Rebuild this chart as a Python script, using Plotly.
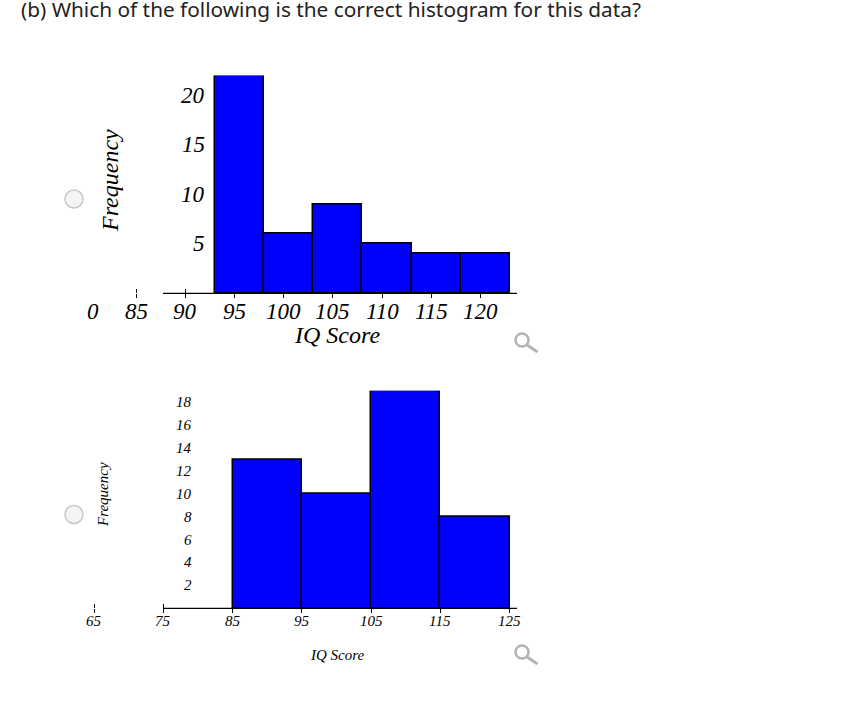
import plotly.graph_objects as go

W, H = 862, 708

top_bins = [93, 98, 103, 108, 113, 118]
top_freq = [22, 6, 9, 5, 4, 4]
top_xticks = [85, 90, 95, 100, 105, 110, 115, 120]
top_yticks = [5, 10, 15, 20]

low_bins = [85, 95, 105, 115]
low_freq = [13, 10, 19, 8]
low_xticks = [65, 75, 85, 95, 105, 115, 125]
low_yticks = [2, 4, 6, 8, 10, 12, 14, 16, 18]

title_text = "(b) Which of the following is the correct histogram for this data?"
SERIF = "Liberation Serif"


def fx(px):
    return px / W


def fy(py):
    return 1 - py / H


def x_range(px_left, px_right, ref_val, ref_px, per_unit):
    return [ref_val + (px_left - ref_px) / per_unit, ref_val + (px_right - ref_px) / per_unit]


def text(x, y, s, size, family=SERIF, style="italic", angle=0, anchor="center", color="black"):
    return dict(xref="paper", yref="paper", x=fx(x), y=fy(y), text=s, showarrow=False,
                xanchor=anchor, yanchor="middle", textangle=angle, borderpad=0,
                font=dict(family=family, size=size, style=style, color=color))


def x_labels(vals, axis, py, size):
    # tick labels are annotations so they can sit closer to the axis than plotly's own
    return [dict(text(0, py, "<i>%s</i>" % v, size), xref=axis, x=v) for v in vals]


def y_labels(vals, axis, px, size):
    return [dict(text(px, 0, "<i>%s</i>" % v, size, anchor="right"), yref=axis, y=v) for v in vals]


fig = go.Figure()

# top histogram
fig.add_trace(go.Bar(x=[b + 2.5 for b in top_bins], y=top_freq, width=5,
                     marker=dict(color="#0000ff", line=dict(color="black", width=1.5)),
                     xaxis="x", yaxis="y"))
# lower histogram
fig.add_trace(go.Bar(x=[b + 5 for b in low_bins], y=low_freq, width=10,
                     marker=dict(color="#0000ff", line=dict(color="black", width=1.5)),
                     xaxis="x2", yaxis="y2"))
# empty traces so the upward tick axes get drawn
fig.add_trace(go.Scatter(x=[], y=[], xaxis="x3", yaxis="y"))
fig.add_trace(go.Scatter(x=[], y=[], xaxis="x4", yaxis="y2"))

top_range = x_range(85, 517, 85, 136, 9.84)
low_range = x_range(85, 517, 75, 163.3, 6.925)
top_dom = [fx(85), fx(517)]


def xaxis_style(rng, vals, **kw):
    return dict(domain=top_dom, range=rng, tickmode="array", tickvals=vals,
                showticklabels=False, ticks="outside", ticklen=4, tickwidth=1,
                tickcolor="black", showgrid=False, zeroline=False, showline=False,
                automargin=False, **kw)


def yaxis_style(dom, rng):
    return dict(domain=dom, range=rng, anchor="free", position=fx(85), showticklabels=False,
                ticks="", showgrid=False, zeroline=False, showline=False, automargin=False)


def up_ticks(rng, vals, over, anchor):
    return dict(domain=top_dom, range=rng, overlaying=over, anchor=anchor, tickmode="array",
                tickvals=vals, ticks="inside", ticklen=4, tickwidth=1, tickcolor="black",
                showticklabels=False, showgrid=False, zeroline=False, showline=False,
                automargin=False)


circle = dict(type="circle", xref="paper", yref="paper")
shapes = [
    # axis lines
    dict(type="line", xref="paper", yref="paper", x0=fx(163), x1=fx(517), y0=fy(293.3), y1=fy(293.3),
         line=dict(color="black", width=1.3)),
    dict(type="line", xref="paper", yref="paper", x0=fx(163), x1=fx(517), y0=fy(608.3), y1=fy(608.3),
         line=dict(color="black", width=1.3)),
]
for cy in [199, 514.5]:
    shapes.append(dict(circle, x0=fx(65), x1=fx(83), y0=fy(cy + 9), y1=fy(cy - 9),
                       fillcolor="#f4f4f4", line=dict(color="#c8c8c8", width=1.5)))
for cy in [340, 652]:
    shapes.append(dict(circle, x0=fx(515.5), x1=fx(528.5), y0=fy(cy + 6.5), y1=fy(cy - 6.5),
                       fillcolor="rgba(0,0,0,0)", line=dict(color="#b4b4b4", width=2.5)))
    shapes.append(dict(type="line", xref="paper", yref="paper", x0=fx(527), x1=fx(537.5),
                       y0=fy(cy + 5), y1=fy(cy + 12), line=dict(color="#b4b4b4", width=3)))

annotations = [
    text(20, 8.5, title_text, 20.8, family="Noto Sans", style="normal", anchor="left", color="#222222"),
    text(93, 312, "0", 23),
    text(337, 335, "IQ Score", 24),
    text(110, 181, "Frequency", 24, angle=-90),
    text(337, 655, "IQ Score", 15),
    text(103, 495, "Frequency", 15, angle=-90),
]
annotations += x_labels(top_xticks, "x", 312, 23)
annotations += x_labels(low_xticks, "x2", 621, 15)
annotations += y_labels(top_yticks, "y", 206, 23)
annotations += y_labels(low_yticks, "y2", 193, 15)

fig.update_layout(
    width=W, height=H, showlegend=False, bargap=0,
    margin=dict(l=0, r=0, t=0, b=0), autosize=False,
    paper_bgcolor="white", plot_bgcolor="white",
    xaxis=xaxis_style(top_range, top_xticks, anchor="y"),
    xaxis2=xaxis_style(low_range, low_xticks, anchor="y2"),
    xaxis3=up_ticks(top_range, [85, 90], "x", "y"),
    xaxis4=up_ticks(low_range, [65, 75], "x2", "y2"),
    yaxis=yaxis_style([fy(293.3), fy(75.6)], [0, 22]),
    yaxis2=yaxis_style([fy(608.3), fy(390.7)], [0, 19]),
    shapes=shapes, annotations=annotations,
)

# drop the default page margin
fig.write_html("out.html", post_script="document.body.style.margin='0';",
               config={"displayModeBar": False})
